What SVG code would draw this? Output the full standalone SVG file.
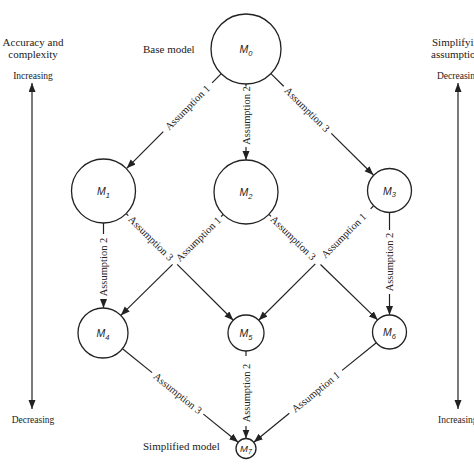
<svg xmlns="http://www.w3.org/2000/svg" width="474" height="474" viewBox="0 0 474 474">
<defs>
<style>
.node{fill:#fff;stroke:#222;stroke-width:1.3}
.ml{font-family:"Liberation Sans",Arial,sans-serif;font-style:italic;font-size:10.5px;fill:#222;text-anchor:middle}
.sub{font-size:7.5px}
.ln{stroke:#222;stroke-width:1.2;fill:none}
.arr{marker-end:url(#ah)}
.al{font-family:"Liberation Serif","Times New Roman",serif;font-size:10.5px;fill:#222;text-anchor:middle}
.tl{font-family:"Liberation Serif","Times New Roman",serif;font-size:11px;fill:#222}
.sm{font-family:"Liberation Serif","Times New Roman",serif;font-size:9.5px;fill:#222}
</style>
<marker id="ah" markerUnits="userSpaceOnUse" markerWidth="10" markerHeight="8" refX="9" refY="3.5" orient="auto-start-reverse">
<path d="M0,0 L9,3.5 L0,7 z" fill="#222"/>
</marker>
</defs>
<rect width="474" height="474" fill="#fff"/>

<g id="side-left">
<text class="tl" x="33" y="46" text-anchor="middle">Accuracy and</text>
<text class="tl" x="33" y="58" text-anchor="middle">complexity</text>
<text class="sm" x="33" y="79" text-anchor="middle">Increasing</text>
<line class="ln" x1="32" y1="83" x2="32" y2="409" marker-start="url(#ah)" marker-end="url(#ah)"/>
<text class="sm" x="33" y="423" text-anchor="middle">Decreasing</text>
</g>
<g id="side-right">
<text class="tl" x="432" y="46">Simplifying</text>
<text class="tl" x="431" y="58">assumptions</text>
<text class="sm" x="437" y="79">Decreasing</text>
<line class="ln" x1="458" y1="83" x2="458" y2="409" marker-start="url(#ah)" marker-end="url(#ah)"/>
<text class="sm" x="438" y="423">Increasing</text>
</g>

<g id="connectors">
<!-- M0 -> M1 -->
<line class="ln" x1="221.3" y1="73.7" x2="212.1" y2="82.9"/>
<text class="al" transform="translate(187.4,107.6) rotate(-45)" y="3.5">Assumption 1</text>
<line class="ln arr" x1="163.3" y1="131.7" x2="126.7" y2="168.3"/>
<!-- M0 -> M2 -->
<line class="ln" x1="246" y1="84" x2="246" y2="86.5"/>
<text class="al" transform="translate(246,115.5) rotate(-90)" y="3.5">Assumption 2</text>
<line class="ln arr" x1="246" y1="147" x2="246" y2="160"/>
<!-- M0 -> M3 -->
<line class="ln" x1="270.9" y1="73.6" x2="283.7" y2="86.3"/>
<text class="al" transform="translate(307.1,109.5) rotate(44.7)" y="3.5">Assumption 3</text>
<line class="ln arr" x1="331.3" y1="133.4" x2="373.4" y2="175"/>
<!-- M1 -> M4 -->
<line class="ln" x1="103.5" y1="223" x2="103.5" y2="234"/>
<text class="al" transform="translate(103.5,267) rotate(-90)" y="3.5">Assumption 2</text>
<line class="ln arr" x1="103.5" y1="300" x2="103.5" y2="308"/>
<!-- M1 -> M5 -->
<line class="ln" x1="126.2" y1="213.6" x2="128.3" y2="215.7"/>
<text class="al" transform="translate(151,238.3) rotate(44.9)" y="3.5">Assumption 3</text>
<line class="ln arr" x1="177.2" y1="264.4" x2="233.3" y2="320.3"/>
<!-- M2 -> M4 -->
<line class="ln" x1="223.2" y1="214.5" x2="221.1" y2="216.6"/>
<text class="al" transform="translate(198.3,239.1) rotate(-44.6)" y="3.5">Assumption 1</text>
<line class="ln arr" x1="172.6" y1="264.4" x2="120.8" y2="315.4"/>
<!-- M2 -> M6 -->
<line class="ln" x1="268.9" y1="214.3" x2="271" y2="216.4"/>
<text class="al" transform="translate(293.3,238) rotate(44.2)" y="3.5">Assumption 3</text>
<line class="ln arr" x1="320.5" y1="264.5" x2="377.8" y2="320.1"/>
<!-- M3 -> M5 -->
<line class="ln" x1="373.4" y1="206" x2="370.6" y2="208.8"/>
<text class="al" transform="translate(343.7,235.6) rotate(-44.9)" y="3.5">Assumption 1</text>
<line class="ln arr" x1="315.3" y1="263.9" x2="258.7" y2="320.3"/>
<!-- M3 -> M6 -->
<line class="ln" x1="389.5" y1="212.5" x2="389.5" y2="230"/>
<text class="al" transform="translate(389.5,262) rotate(-90)" y="3.5">Assumption 2</text>
<line class="ln arr" x1="389.5" y1="294" x2="389.5" y2="315"/>
<!-- M4 -> M7 -->
<line class="ln" x1="122.5" y1="348.7" x2="152.1" y2="372.6"/>
<text class="al" transform="translate(177.7,393.3) rotate(38.9)" y="3.5">Assumption 3</text>
<line class="ln arr" x1="203.4" y1="414.1" x2="238.2" y2="442.2"/>
<!-- M5 -> M7 -->
<line class="ln" x1="246" y1="351" x2="246" y2="356"/>
<text class="al" transform="translate(246,393) rotate(-90)" y="3.5">Assumption 2</text>
<line class="ln arr" x1="246" y1="426" x2="246" y2="438.5"/>
<!-- M6 -> M7 -->
<line class="ln" x1="376.3" y1="342.7" x2="342.1" y2="370.4"/>
<text class="al" transform="translate(315.7,391.9) rotate(-39.1)" y="3.5">Assumption 1</text>
<line class="ln arr" x1="289.3" y1="413.3" x2="253.8" y2="442.2"/>
</g>

<g id="M0">
<circle class="node" cx="246" cy="49" r="35"/>
<text class="ml" x="246" y="53">M<tspan class="sub" dy="2.5">0</tspan></text>
<text class="tl" x="143" y="53">Base model</text>
</g>
<g id="M1">
<circle class="node" cx="103.5" cy="191" r="32"/>
<text class="ml" x="103.5" y="195">M<tspan class="sub" dy="2.5">1</tspan></text>
</g>
<g id="M2">
<circle class="node" cx="246" cy="192" r="32"/>
<text class="ml" x="246" y="196">M<tspan class="sub" dy="2.5">2</tspan></text>
</g>
<g id="M3">
<circle class="node" cx="389.5" cy="190.5" r="22"/>
<text class="ml" x="389.5" y="194.5">M<tspan class="sub" dy="2.5">3</tspan></text>
</g>
<g id="M4">
<circle class="node" cx="103" cy="333" r="25"/>
<text class="ml" x="103" y="337">M<tspan class="sub" dy="2.5">4</tspan></text>
</g>
<g id="M5">
<circle class="node" cx="246" cy="333" r="18"/>
<text class="ml" x="246" y="337">M<tspan class="sub" dy="2.5">5</tspan></text>
</g>
<g id="M6">
<circle class="node" cx="389.5" cy="332" r="17"/>
<text class="ml" x="389.5" y="336">M<tspan class="sub" dy="2.5">6</tspan></text>
</g>
<g id="M7">
<circle class="node" cx="246" cy="448.5" r="10"/>
<text class="ml" x="246" y="451.5" style="font-size:9.5px">M<tspan class="sub" dy="2" style="font-size:7px">7</tspan></text>
<text class="tl" x="143" y="450">Simplified model</text>
</g>
</svg>
